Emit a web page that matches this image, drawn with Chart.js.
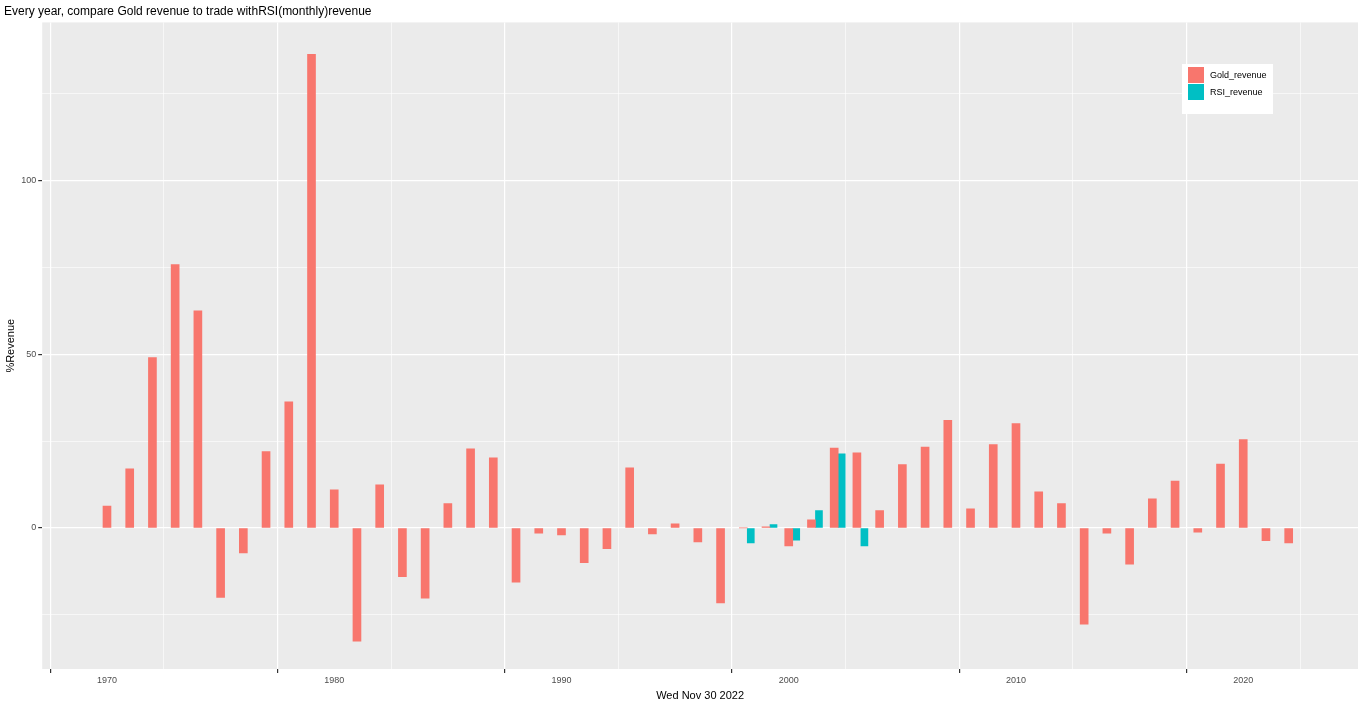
<!DOCTYPE html>
<html>
<head>
<meta charset="utf-8">
<script src="https://cdn.jsdelivr.net/npm/chart.js@4"></script>
<style>
  body { margin: 0; background: #fff; }
  #wrap { width: 1366px; height: 705px; }
</style>
</head>
<body>
<div id="wrap"><canvas id="chart" width="1366" height="705"></canvas></div>
<script>
const goldYears = [1970, 1971, 1972, 1973, 1974, 1975, 1976, 1977, 1978, 1979,
    1980, 1981, 1982, 1983, 1984, 1985, 1986, 1987, 1988, 1989,
    1990, 1991, 1992, 1993, 1994, 1995, 1996, 1997, 1998, 1999,
    2000, 2001, 2002, 2003, 2004, 2005, 2006, 2007, 2008, 2009,
    2010, 2011, 2012, 2013, 2014, 2015, 2016, 2017, 2018, 2019,
    2020, 2021, 2022];
const goldRevenue = [6.3, 17, 49, 75.8, 62.5, -20, -7.2, 22, 36.3, 136.3,
    11, -32.6, 12.4, -14, -20.2, 7, 22.8, 20.2, -15.6, -1.5,
    -2, -10, -6, 17.3, -1.7, 1.2, -4, -21.6, 0, 0.3,
    -5.2, 2.3, 23, 21.6, 5, 18.2, 23.3, 31, 5.5, 24,
    30, 10.4, 7, -27.7, -1.5, -10.4, 8.4, 13.5, -1.2, 18.4,
    25.4, -3.7, -4.3];
const rsiYears = [1998, 1999, 2000, 2001, 2002, 2003];
const rsiRevenue = [-4.3, 1, -3.5, 5, 21.3, -5.2];

const panelBg = {
    id: 'panelBg',
    beforeDraw(chart) {
        const a = chart.chartArea, c = chart.ctx;
        c.save();
        c.fillStyle = '#EBEBEB';
        c.fillRect(a.left, a.top, a.right - a.left, a.bottom - a.top);
        c.restore();
    }
};

const legendBox = {
    id: 'legendBox',
    afterDraw(chart) {
        const c = chart.ctx;
        c.save();
        c.fillStyle = '#fff';
        c.fillRect(1182, 64, 91, 50);
        const items = [['Gold_revenue', '#F8766D'], ['RSI_revenue', '#00BFC4']];
        c.font = '9px "Liberation Sans", Arial, sans-serif';
        c.textBaseline = 'middle';
        items.forEach((it, i) => {
            const y = 75 + i * 17;
            c.fillStyle = it[1];
            c.fillRect(1188, y - 8, 16, 16);
            c.fillStyle = '#000';
            c.fillText(it[0], 1210, y + 1);
        });
        c.restore();
    }
};

const gridColor = ctx => '#FFFFFF';

new Chart(document.getElementById('chart'), {
    type: 'bar',
    data: {
        datasets: [{
            label: 'Gold_revenue',
            data: goldYears.map((y, i) => ({ x: y, y: goldRevenue[i] })),
            backgroundColor: '#F8766D',
            barThickness: 8
        }, {
            label: 'RSI_revenue',
            data: rsiYears.map((y, i) => ({ x: y + 0.33, y: rsiRevenue[i] })),
            backgroundColor: '#00BFC4',
            barThickness: 7
        }]
    },
    options: {
        responsive: false,
        animation: false,
        datasets: { bar: { grouped: false } },
        layout: { padding: { left: 4, right: 8, top: 0, bottom: 2 } },
        plugins: {
            legend: { display: false },
            tooltip: { enabled: false },
            title: {
                display: true,
                text: 'Every year, compare Gold revenue to trade withRSI(monthly)revenue',
                align: 'start',
                color: '#000',
                font: { family: '"Liberation Sans", Arial, sans-serif', size: 12, weight: 'normal' },
                padding: { top: 4, bottom: 4 }
            }
        },
        scales: {
            x: {
                type: 'linear',
                min: 1967.15,
                max: 2025.05,
                offset: false,
                border: { display: false },
                afterBuildTicks(axis) {
                    const t = [];
                    for (let v = 1970; v <= 2025; v += 5) t.push({ value: v });
                    axis.ticks = t;
                },
                ticks: {
                    color: '#4D4D4D',
                    font: { family: '"Liberation Sans", Arial, sans-serif', size: 9 },
                    maxRotation: 0,
                    callback: v => (v % 10 === 0 ? String(v) : ''),
                    padding: 2
                },
                grid: {
                    color: gridColor,
                    lineWidth: ctx => (ctx.tick && ctx.tick.value % 10 === 0 ? 1.2 : 0.6),
                    tickColor: ctx => (ctx.tick && ctx.tick.value % 10 === 0 ? '#333' : 'rgba(0,0,0,0)'),
                    tickLength: 4
                },
                title: {
                    display: true,
                    text: 'Wed Nov 30 2022',
                    color: '#000',
                    font: { family: '"Liberation Sans", Arial, sans-serif', size: 11 },
                    padding: { top: 2, bottom: 0 }
                }
            },
            y: {
                min: -40.6,
                max: 145.5,
                border: { display: false },
                afterBuildTicks(axis) {
                    const t = [];
                    for (let v = -25; v <= 125; v += 25) t.push({ value: v });
                    axis.ticks = t;
                },
                ticks: {
                    color: '#4D4D4D',
                    font: { family: '"Liberation Sans", Arial, sans-serif', size: 9 },
                    callback: v => (v % 50 === 0 ? String(v) : ''),
                    padding: 2
                },
                grid: {
                    color: gridColor,
                    lineWidth: ctx => (ctx.tick && ctx.tick.value % 50 === 0 ? 1.2 : 0.6),
                    tickColor: ctx => (ctx.tick && ctx.tick.value % 50 === 0 ? '#333' : 'rgba(0,0,0,0)'),
                    tickLength: 4
                },
                title: {
                    display: true,
                    text: '%Revenue',
                    color: '#000',
                    font: { family: '"Liberation Sans", Arial, sans-serif', size: 11 },
                    padding: { top: 0, bottom: 2 }
                }
            }
        }
    },
    plugins: [panelBg, legendBox]
});
</script>
</body>
</html>
